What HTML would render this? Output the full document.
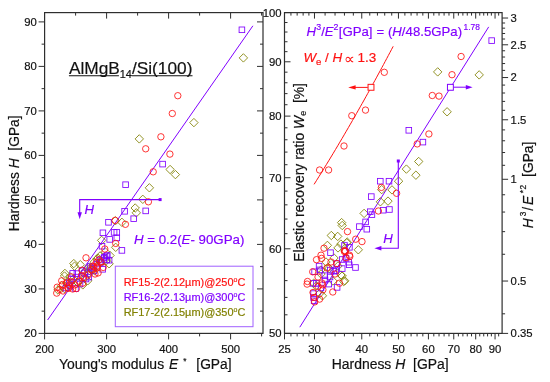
<!DOCTYPE html>
<html><head><meta charset="utf-8"><title>AlMgB14/Si(100) hardness plots</title>
<style>html,body{margin:0;padding:0;background:#fff}svg{display:block}text{font-family:"Liberation Sans",Arial,sans-serif}</style>
</head><body>
<svg width="550" height="382" viewBox="0 0 550 382" font-family="'Liberation Sans', Arial, sans-serif">
<g fill="none" stroke-linecap="butt">
<rect x="44.6" y="12.6" width="218.40" height="320.80" stroke="#2e2e2e" stroke-width="1.2"/>
<rect x="284.5" y="12.6" width="217.60" height="320.80" stroke="#2e2e2e" stroke-width="1.2"/>
<line x1="38.60" y1="333.40" x2="44.60" y2="333.40" stroke="#2e2e2e" stroke-width="1.0" />
<line x1="257.00" y1="333.40" x2="263.00" y2="333.40" stroke="#2e2e2e" stroke-width="1.0" />
<line x1="41.60" y1="311.15" x2="44.60" y2="311.15" stroke="#2e2e2e" stroke-width="1.0" />
<line x1="260.00" y1="311.15" x2="263.00" y2="311.15" stroke="#2e2e2e" stroke-width="1.0" />
<line x1="38.60" y1="288.90" x2="44.60" y2="288.90" stroke="#2e2e2e" stroke-width="1.0" />
<line x1="257.00" y1="288.90" x2="263.00" y2="288.90" stroke="#2e2e2e" stroke-width="1.0" />
<line x1="41.60" y1="266.65" x2="44.60" y2="266.65" stroke="#2e2e2e" stroke-width="1.0" />
<line x1="260.00" y1="266.65" x2="263.00" y2="266.65" stroke="#2e2e2e" stroke-width="1.0" />
<line x1="38.60" y1="244.40" x2="44.60" y2="244.40" stroke="#2e2e2e" stroke-width="1.0" />
<line x1="257.00" y1="244.40" x2="263.00" y2="244.40" stroke="#2e2e2e" stroke-width="1.0" />
<line x1="41.60" y1="222.15" x2="44.60" y2="222.15" stroke="#2e2e2e" stroke-width="1.0" />
<line x1="260.00" y1="222.15" x2="263.00" y2="222.15" stroke="#2e2e2e" stroke-width="1.0" />
<line x1="38.60" y1="199.90" x2="44.60" y2="199.90" stroke="#2e2e2e" stroke-width="1.0" />
<line x1="257.00" y1="199.90" x2="263.00" y2="199.90" stroke="#2e2e2e" stroke-width="1.0" />
<line x1="41.60" y1="177.65" x2="44.60" y2="177.65" stroke="#2e2e2e" stroke-width="1.0" />
<line x1="260.00" y1="177.65" x2="263.00" y2="177.65" stroke="#2e2e2e" stroke-width="1.0" />
<line x1="38.60" y1="155.40" x2="44.60" y2="155.40" stroke="#2e2e2e" stroke-width="1.0" />
<line x1="257.00" y1="155.40" x2="263.00" y2="155.40" stroke="#2e2e2e" stroke-width="1.0" />
<line x1="41.60" y1="133.15" x2="44.60" y2="133.15" stroke="#2e2e2e" stroke-width="1.0" />
<line x1="260.00" y1="133.15" x2="263.00" y2="133.15" stroke="#2e2e2e" stroke-width="1.0" />
<line x1="38.60" y1="110.90" x2="44.60" y2="110.90" stroke="#2e2e2e" stroke-width="1.0" />
<line x1="257.00" y1="110.90" x2="263.00" y2="110.90" stroke="#2e2e2e" stroke-width="1.0" />
<line x1="41.60" y1="88.65" x2="44.60" y2="88.65" stroke="#2e2e2e" stroke-width="1.0" />
<line x1="260.00" y1="88.65" x2="263.00" y2="88.65" stroke="#2e2e2e" stroke-width="1.0" />
<line x1="38.60" y1="66.40" x2="44.60" y2="66.40" stroke="#2e2e2e" stroke-width="1.0" />
<line x1="257.00" y1="66.40" x2="263.00" y2="66.40" stroke="#2e2e2e" stroke-width="1.0" />
<line x1="41.60" y1="44.15" x2="44.60" y2="44.15" stroke="#2e2e2e" stroke-width="1.0" />
<line x1="260.00" y1="44.15" x2="263.00" y2="44.15" stroke="#2e2e2e" stroke-width="1.0" />
<line x1="38.60" y1="21.90" x2="44.60" y2="21.90" stroke="#2e2e2e" stroke-width="1.0" />
<line x1="257.00" y1="21.90" x2="263.00" y2="21.90" stroke="#2e2e2e" stroke-width="1.0" />
<line x1="44.60" y1="333.40" x2="44.60" y2="339.40" stroke="#2e2e2e" stroke-width="1.0" />
<line x1="75.60" y1="333.40" x2="75.60" y2="336.40" stroke="#2e2e2e" stroke-width="1.0" />
<line x1="75.60" y1="12.60" x2="75.60" y2="15.60" stroke="#2e2e2e" stroke-width="1.0" />
<line x1="106.60" y1="333.40" x2="106.60" y2="339.40" stroke="#2e2e2e" stroke-width="1.0" />
<line x1="106.60" y1="12.60" x2="106.60" y2="18.60" stroke="#2e2e2e" stroke-width="1.0" />
<line x1="137.60" y1="333.40" x2="137.60" y2="336.40" stroke="#2e2e2e" stroke-width="1.0" />
<line x1="137.60" y1="12.60" x2="137.60" y2="15.60" stroke="#2e2e2e" stroke-width="1.0" />
<line x1="168.60" y1="333.40" x2="168.60" y2="339.40" stroke="#2e2e2e" stroke-width="1.0" />
<line x1="168.60" y1="12.60" x2="168.60" y2="18.60" stroke="#2e2e2e" stroke-width="1.0" />
<line x1="199.60" y1="333.40" x2="199.60" y2="336.40" stroke="#2e2e2e" stroke-width="1.0" />
<line x1="199.60" y1="12.60" x2="199.60" y2="15.60" stroke="#2e2e2e" stroke-width="1.0" />
<line x1="230.60" y1="333.40" x2="230.60" y2="339.40" stroke="#2e2e2e" stroke-width="1.0" />
<line x1="230.60" y1="12.60" x2="230.60" y2="18.60" stroke="#2e2e2e" stroke-width="1.0" />
<line x1="261.60" y1="333.40" x2="261.60" y2="336.40" stroke="#2e2e2e" stroke-width="1.0" />
<line x1="261.60" y1="12.60" x2="261.60" y2="15.60" stroke="#2e2e2e" stroke-width="1.0" />
<line x1="284.50" y1="333.40" x2="284.50" y2="339.40" stroke="#2e2e2e" stroke-width="1.0" />
<line x1="314.47" y1="333.40" x2="314.47" y2="339.40" stroke="#2e2e2e" stroke-width="1.0" />
<line x1="314.47" y1="12.60" x2="314.47" y2="18.60" stroke="#2e2e2e" stroke-width="1.0" />
<line x1="361.76" y1="333.40" x2="361.76" y2="339.40" stroke="#2e2e2e" stroke-width="1.0" />
<line x1="361.76" y1="12.60" x2="361.76" y2="18.60" stroke="#2e2e2e" stroke-width="1.0" />
<line x1="398.44" y1="333.40" x2="398.44" y2="339.40" stroke="#2e2e2e" stroke-width="1.0" />
<line x1="398.44" y1="12.60" x2="398.44" y2="18.60" stroke="#2e2e2e" stroke-width="1.0" />
<line x1="428.41" y1="333.40" x2="428.41" y2="339.40" stroke="#2e2e2e" stroke-width="1.0" />
<line x1="428.41" y1="12.60" x2="428.41" y2="18.60" stroke="#2e2e2e" stroke-width="1.0" />
<line x1="453.75" y1="333.40" x2="453.75" y2="339.40" stroke="#2e2e2e" stroke-width="1.0" />
<line x1="453.75" y1="12.60" x2="453.75" y2="18.60" stroke="#2e2e2e" stroke-width="1.0" />
<line x1="475.70" y1="333.40" x2="475.70" y2="339.40" stroke="#2e2e2e" stroke-width="1.0" />
<line x1="475.70" y1="12.60" x2="475.70" y2="18.60" stroke="#2e2e2e" stroke-width="1.0" />
<line x1="495.06" y1="333.40" x2="495.06" y2="339.40" stroke="#2e2e2e" stroke-width="1.0" />
<line x1="495.06" y1="12.60" x2="495.06" y2="18.60" stroke="#2e2e2e" stroke-width="1.0" />
<line x1="290.95" y1="333.40" x2="290.95" y2="336.40" stroke="#2e2e2e" stroke-width="1.0" />
<line x1="290.95" y1="12.60" x2="290.95" y2="15.60" stroke="#2e2e2e" stroke-width="1.0" />
<line x1="297.15" y1="333.40" x2="297.15" y2="336.40" stroke="#2e2e2e" stroke-width="1.0" />
<line x1="297.15" y1="12.60" x2="297.15" y2="15.60" stroke="#2e2e2e" stroke-width="1.0" />
<line x1="303.13" y1="333.40" x2="303.13" y2="336.40" stroke="#2e2e2e" stroke-width="1.0" />
<line x1="303.13" y1="12.60" x2="303.13" y2="15.60" stroke="#2e2e2e" stroke-width="1.0" />
<line x1="308.90" y1="333.40" x2="308.90" y2="336.40" stroke="#2e2e2e" stroke-width="1.0" />
<line x1="308.90" y1="12.60" x2="308.90" y2="15.60" stroke="#2e2e2e" stroke-width="1.0" />
<line x1="325.08" y1="333.40" x2="325.08" y2="336.40" stroke="#2e2e2e" stroke-width="1.0" />
<line x1="325.08" y1="12.60" x2="325.08" y2="15.60" stroke="#2e2e2e" stroke-width="1.0" />
<line x1="335.04" y1="333.40" x2="335.04" y2="336.40" stroke="#2e2e2e" stroke-width="1.0" />
<line x1="335.04" y1="12.60" x2="335.04" y2="15.60" stroke="#2e2e2e" stroke-width="1.0" />
<line x1="344.44" y1="333.40" x2="344.44" y2="336.40" stroke="#2e2e2e" stroke-width="1.0" />
<line x1="344.44" y1="12.60" x2="344.44" y2="15.60" stroke="#2e2e2e" stroke-width="1.0" />
<line x1="353.33" y1="333.40" x2="353.33" y2="336.40" stroke="#2e2e2e" stroke-width="1.0" />
<line x1="353.33" y1="12.60" x2="353.33" y2="15.60" stroke="#2e2e2e" stroke-width="1.0" />
<line x1="369.78" y1="333.40" x2="369.78" y2="336.40" stroke="#2e2e2e" stroke-width="1.0" />
<line x1="369.78" y1="12.60" x2="369.78" y2="15.60" stroke="#2e2e2e" stroke-width="1.0" />
<line x1="377.43" y1="333.40" x2="377.43" y2="336.40" stroke="#2e2e2e" stroke-width="1.0" />
<line x1="377.43" y1="12.60" x2="377.43" y2="15.60" stroke="#2e2e2e" stroke-width="1.0" />
<line x1="384.73" y1="333.40" x2="384.73" y2="336.40" stroke="#2e2e2e" stroke-width="1.0" />
<line x1="384.73" y1="12.60" x2="384.73" y2="15.60" stroke="#2e2e2e" stroke-width="1.0" />
<line x1="391.73" y1="333.40" x2="391.73" y2="336.40" stroke="#2e2e2e" stroke-width="1.0" />
<line x1="391.73" y1="12.60" x2="391.73" y2="15.60" stroke="#2e2e2e" stroke-width="1.0" />
<line x1="404.89" y1="333.40" x2="404.89" y2="336.40" stroke="#2e2e2e" stroke-width="1.0" />
<line x1="404.89" y1="12.60" x2="404.89" y2="15.60" stroke="#2e2e2e" stroke-width="1.0" />
<line x1="411.09" y1="333.40" x2="411.09" y2="336.40" stroke="#2e2e2e" stroke-width="1.0" />
<line x1="411.09" y1="12.60" x2="411.09" y2="15.60" stroke="#2e2e2e" stroke-width="1.0" />
<line x1="417.07" y1="333.40" x2="417.07" y2="336.40" stroke="#2e2e2e" stroke-width="1.0" />
<line x1="417.07" y1="12.60" x2="417.07" y2="15.60" stroke="#2e2e2e" stroke-width="1.0" />
<line x1="422.84" y1="333.40" x2="422.84" y2="336.40" stroke="#2e2e2e" stroke-width="1.0" />
<line x1="422.84" y1="12.60" x2="422.84" y2="15.60" stroke="#2e2e2e" stroke-width="1.0" />
<line x1="433.80" y1="333.40" x2="433.80" y2="336.40" stroke="#2e2e2e" stroke-width="1.0" />
<line x1="433.80" y1="12.60" x2="433.80" y2="15.60" stroke="#2e2e2e" stroke-width="1.0" />
<line x1="439.02" y1="333.40" x2="439.02" y2="336.40" stroke="#2e2e2e" stroke-width="1.0" />
<line x1="439.02" y1="12.60" x2="439.02" y2="15.60" stroke="#2e2e2e" stroke-width="1.0" />
<line x1="444.08" y1="333.40" x2="444.08" y2="336.40" stroke="#2e2e2e" stroke-width="1.0" />
<line x1="444.08" y1="12.60" x2="444.08" y2="15.60" stroke="#2e2e2e" stroke-width="1.0" />
<line x1="448.98" y1="333.40" x2="448.98" y2="336.40" stroke="#2e2e2e" stroke-width="1.0" />
<line x1="448.98" y1="12.60" x2="448.98" y2="15.60" stroke="#2e2e2e" stroke-width="1.0" />
<line x1="458.38" y1="333.40" x2="458.38" y2="336.40" stroke="#2e2e2e" stroke-width="1.0" />
<line x1="458.38" y1="12.60" x2="458.38" y2="15.60" stroke="#2e2e2e" stroke-width="1.0" />
<line x1="462.88" y1="333.40" x2="462.88" y2="336.40" stroke="#2e2e2e" stroke-width="1.0" />
<line x1="462.88" y1="12.60" x2="462.88" y2="15.60" stroke="#2e2e2e" stroke-width="1.0" />
<line x1="467.27" y1="333.40" x2="467.27" y2="336.40" stroke="#2e2e2e" stroke-width="1.0" />
<line x1="467.27" y1="12.60" x2="467.27" y2="15.60" stroke="#2e2e2e" stroke-width="1.0" />
<line x1="471.54" y1="333.40" x2="471.54" y2="336.40" stroke="#2e2e2e" stroke-width="1.0" />
<line x1="471.54" y1="12.60" x2="471.54" y2="15.60" stroke="#2e2e2e" stroke-width="1.0" />
<line x1="479.76" y1="333.40" x2="479.76" y2="336.40" stroke="#2e2e2e" stroke-width="1.0" />
<line x1="479.76" y1="12.60" x2="479.76" y2="15.60" stroke="#2e2e2e" stroke-width="1.0" />
<line x1="483.72" y1="333.40" x2="483.72" y2="336.40" stroke="#2e2e2e" stroke-width="1.0" />
<line x1="483.72" y1="12.60" x2="483.72" y2="15.60" stroke="#2e2e2e" stroke-width="1.0" />
<line x1="487.59" y1="333.40" x2="487.59" y2="336.40" stroke="#2e2e2e" stroke-width="1.0" />
<line x1="487.59" y1="12.60" x2="487.59" y2="15.60" stroke="#2e2e2e" stroke-width="1.0" />
<line x1="491.37" y1="333.40" x2="491.37" y2="336.40" stroke="#2e2e2e" stroke-width="1.0" />
<line x1="491.37" y1="12.60" x2="491.37" y2="15.60" stroke="#2e2e2e" stroke-width="1.0" />
<line x1="498.67" y1="333.40" x2="498.67" y2="336.40" stroke="#2e2e2e" stroke-width="1.0" />
<line x1="498.67" y1="12.60" x2="498.67" y2="15.60" stroke="#2e2e2e" stroke-width="1.0" />
<line x1="284.50" y1="333.40" x2="290.50" y2="333.40" stroke="#2e2e2e" stroke-width="1.0" />
<line x1="284.50" y1="314.80" x2="287.50" y2="314.80" stroke="#2e2e2e" stroke-width="1.0" />
<line x1="284.50" y1="297.40" x2="287.50" y2="297.40" stroke="#2e2e2e" stroke-width="1.0" />
<line x1="284.50" y1="280.62" x2="287.50" y2="280.62" stroke="#2e2e2e" stroke-width="1.0" />
<line x1="284.50" y1="264.44" x2="287.50" y2="264.44" stroke="#2e2e2e" stroke-width="1.0" />
<line x1="284.50" y1="248.80" x2="290.50" y2="248.80" stroke="#2e2e2e" stroke-width="1.0" />
<line x1="284.50" y1="233.68" x2="287.50" y2="233.68" stroke="#2e2e2e" stroke-width="1.0" />
<line x1="284.50" y1="219.04" x2="287.50" y2="219.04" stroke="#2e2e2e" stroke-width="1.0" />
<line x1="284.50" y1="204.84" x2="287.50" y2="204.84" stroke="#2e2e2e" stroke-width="1.0" />
<line x1="284.50" y1="191.08" x2="287.50" y2="191.08" stroke="#2e2e2e" stroke-width="1.0" />
<line x1="284.50" y1="177.71" x2="290.50" y2="177.71" stroke="#2e2e2e" stroke-width="1.0" />
<line x1="284.50" y1="164.71" x2="287.50" y2="164.71" stroke="#2e2e2e" stroke-width="1.0" />
<line x1="284.50" y1="152.08" x2="287.50" y2="152.08" stroke="#2e2e2e" stroke-width="1.0" />
<line x1="284.50" y1="139.78" x2="287.50" y2="139.78" stroke="#2e2e2e" stroke-width="1.0" />
<line x1="284.50" y1="127.80" x2="287.50" y2="127.80" stroke="#2e2e2e" stroke-width="1.0" />
<line x1="284.50" y1="116.12" x2="290.50" y2="116.12" stroke="#2e2e2e" stroke-width="1.0" />
<line x1="284.50" y1="104.73" x2="287.50" y2="104.73" stroke="#2e2e2e" stroke-width="1.0" />
<line x1="284.50" y1="93.62" x2="287.50" y2="93.62" stroke="#2e2e2e" stroke-width="1.0" />
<line x1="284.50" y1="82.76" x2="287.50" y2="82.76" stroke="#2e2e2e" stroke-width="1.0" />
<line x1="284.50" y1="72.16" x2="287.50" y2="72.16" stroke="#2e2e2e" stroke-width="1.0" />
<line x1="284.50" y1="61.79" x2="290.50" y2="61.79" stroke="#2e2e2e" stroke-width="1.0" />
<line x1="284.50" y1="51.66" x2="287.50" y2="51.66" stroke="#2e2e2e" stroke-width="1.0" />
<line x1="284.50" y1="41.74" x2="287.50" y2="41.74" stroke="#2e2e2e" stroke-width="1.0" />
<line x1="284.50" y1="32.03" x2="287.50" y2="32.03" stroke="#2e2e2e" stroke-width="1.0" />
<line x1="284.50" y1="22.52" x2="287.50" y2="22.52" stroke="#2e2e2e" stroke-width="1.0" />
<line x1="284.50" y1="12.60" x2="290.50" y2="12.60" stroke="#2e2e2e" stroke-width="1.0" />
<line x1="502.10" y1="333.40" x2="508.10" y2="333.40" stroke="#2e2e2e" stroke-width="1.0" />
<line x1="502.10" y1="281.04" x2="508.10" y2="281.04" stroke="#2e2e2e" stroke-width="1.0" />
<line x1="502.10" y1="179.29" x2="508.10" y2="179.29" stroke="#2e2e2e" stroke-width="1.0" />
<line x1="502.10" y1="119.78" x2="508.10" y2="119.78" stroke="#2e2e2e" stroke-width="1.0" />
<line x1="502.10" y1="77.55" x2="508.10" y2="77.55" stroke="#2e2e2e" stroke-width="1.0" />
<line x1="502.10" y1="44.79" x2="508.10" y2="44.79" stroke="#2e2e2e" stroke-width="1.0" />
<line x1="502.10" y1="18.03" x2="508.10" y2="18.03" stroke="#2e2e2e" stroke-width="1.0" />
<line x1="502.10" y1="313.80" x2="505.10" y2="313.80" stroke="#2e2e2e" stroke-width="1.0" />
<line x1="502.10" y1="254.28" x2="505.10" y2="254.28" stroke="#2e2e2e" stroke-width="1.0" />
<line x1="502.10" y1="231.65" x2="505.10" y2="231.65" stroke="#2e2e2e" stroke-width="1.0" />
<line x1="502.10" y1="212.05" x2="505.10" y2="212.05" stroke="#2e2e2e" stroke-width="1.0" />
<line x1="502.10" y1="194.76" x2="505.10" y2="194.76" stroke="#2e2e2e" stroke-width="1.0" />
<line x1="502.10" y1="165.30" x2="505.10" y2="165.30" stroke="#2e2e2e" stroke-width="1.0" />
<line x1="502.10" y1="152.53" x2="505.10" y2="152.53" stroke="#2e2e2e" stroke-width="1.0" />
<line x1="502.10" y1="140.78" x2="505.10" y2="140.78" stroke="#2e2e2e" stroke-width="1.0" />
<line x1="502.10" y1="129.90" x2="505.10" y2="129.90" stroke="#2e2e2e" stroke-width="1.0" />
<line x1="502.10" y1="110.30" x2="505.10" y2="110.30" stroke="#2e2e2e" stroke-width="1.0" />
<line x1="502.10" y1="101.40" x2="505.10" y2="101.40" stroke="#2e2e2e" stroke-width="1.0" />
<line x1="502.10" y1="93.01" x2="505.10" y2="93.01" stroke="#2e2e2e" stroke-width="1.0" />
<line x1="502.10" y1="85.08" x2="505.10" y2="85.08" stroke="#2e2e2e" stroke-width="1.0" />
<line x1="502.10" y1="70.38" x2="505.10" y2="70.38" stroke="#2e2e2e" stroke-width="1.0" />
<line x1="502.10" y1="63.56" x2="505.10" y2="63.56" stroke="#2e2e2e" stroke-width="1.0" />
<line x1="502.10" y1="57.03" x2="505.10" y2="57.03" stroke="#2e2e2e" stroke-width="1.0" />
<line x1="502.10" y1="50.78" x2="505.10" y2="50.78" stroke="#2e2e2e" stroke-width="1.0" />
<line x1="502.10" y1="39.03" x2="505.10" y2="39.03" stroke="#2e2e2e" stroke-width="1.0" />
<line x1="502.10" y1="33.49" x2="505.10" y2="33.49" stroke="#2e2e2e" stroke-width="1.0" />
<line x1="502.10" y1="28.16" x2="505.10" y2="28.16" stroke="#2e2e2e" stroke-width="1.0" />
<line x1="502.10" y1="23.00" x2="505.10" y2="23.00" stroke="#2e2e2e" stroke-width="1.0" />
</g>
<line x1="47.60" y1="320.00" x2="252.90" y2="25.80" stroke="#8000ff" stroke-width="1.0" />
<line x1="299.80" y1="327.20" x2="488.70" y2="26.90" stroke="#8000ff" stroke-width="1.0" />
<path d="M314.09 184.35L316.61 180.34L319.09 176.37L321.54 172.44L323.94 168.54L326.32 164.66L328.66 160.83L330.97 157.02L333.25 153.25L335.49 149.50L337.71 145.79L339.89 142.10L342.05 138.45L344.18 134.82L346.28 131.22L348.35 127.65L350.40 124.11L352.43 120.59L354.43 117.10L356.40 113.64L358.35 110.20L360.28 106.79L362.19 103.40L364.08 100.04L365.94 96.70L367.78 93.39L369.60 90.10L371.41 86.83L373.19 83.58L374.95 80.36L376.70 77.16L378.42 73.99L380.13 70.83L381.82 67.70L383.50 64.58L385.15 61.49L386.79 58.42L388.42 55.37L390.03 52.34L391.62 49.33L393.20 46.34" fill="none" stroke="#ff1212" stroke-width="1.0"/>
<path d="M239.2 57.9L243.4 53.7L247.6 57.9L243.4 62.1Z" fill="none" stroke="#808000" stroke-width="0.85"/>
<path d="M189.7 122.6L193.9 118.4L198.1 122.6L193.9 126.8Z" fill="none" stroke="#808000" stroke-width="0.85"/>
<path d="M135.1 138.9L139.3 134.7L143.5 138.9L139.3 143.1Z" fill="none" stroke="#808000" stroke-width="0.85"/>
<path d="M165.9 169.5L170.1 165.3L174.3 169.5L170.1 173.7Z" fill="none" stroke="#808000" stroke-width="0.85"/>
<path d="M171.2 174.6L175.4 170.4L179.6 174.6L175.4 178.8Z" fill="none" stroke="#808000" stroke-width="0.85"/>
<path d="M145.2 187.8L149.4 183.6L153.6 187.8L149.4 192.0Z" fill="none" stroke="#808000" stroke-width="0.85"/>
<path d="M138.6 199.3L142.8 195.1L147.0 199.3L142.8 203.5Z" fill="none" stroke="#808000" stroke-width="0.85"/>
<path d="M131.0 208.0L135.2 203.8L139.4 208.0L135.2 212.2Z" fill="none" stroke="#808000" stroke-width="0.85"/>
<path d="M132.1 212.8L136.3 208.6L140.5 212.8L136.3 217.0Z" fill="none" stroke="#808000" stroke-width="0.85"/>
<path d="M111.2 220.7L115.4 216.5L119.6 220.7L115.4 224.9Z" fill="none" stroke="#808000" stroke-width="0.85"/>
<path d="M117.7 222.3L121.9 218.1L126.1 222.3L121.9 226.5Z" fill="none" stroke="#808000" stroke-width="0.85"/>
<path d="M97.4 240.4L101.6 236.2L105.8 240.4L101.6 244.6Z" fill="none" stroke="#808000" stroke-width="0.85"/>
<path d="M111.5 247.3L115.7 243.1L119.9 247.3L115.7 251.5Z" fill="none" stroke="#808000" stroke-width="0.85"/>
<path d="M101.0 251.8L105.2 247.6L109.4 251.8L105.2 256.0Z" fill="none" stroke="#808000" stroke-width="0.85"/>
<path d="M105.8 255.5L110.0 251.3L114.2 255.5L110.0 259.7Z" fill="none" stroke="#808000" stroke-width="0.85"/>
<path d="M104.9 263.8L109.1 259.6L113.3 263.8L109.1 268.0Z" fill="none" stroke="#808000" stroke-width="0.85"/>
<path d="M76.1 264.7L80.3 260.5L84.5 264.7L80.3 268.9Z" fill="none" stroke="#808000" stroke-width="0.85"/>
<path d="M69.6 263.6L73.8 259.4L78.0 263.6L73.8 267.8Z" fill="none" stroke="#808000" stroke-width="0.85"/>
<path d="M70.3 266.2L74.5 262.0L78.7 266.2L74.5 270.4Z" fill="none" stroke="#808000" stroke-width="0.85"/>
<path d="M60.7 273.4L64.9 269.2L69.1 273.4L64.9 277.6Z" fill="none" stroke="#808000" stroke-width="0.85"/>
<path d="M60.3 276.0L64.5 271.8L68.7 276.0L64.5 280.2Z" fill="none" stroke="#808000" stroke-width="0.85"/>
<path d="M57.5 285.8L61.7 281.6L65.9 285.8L61.7 290.0Z" fill="none" stroke="#808000" stroke-width="0.85"/>
<path d="M60.3 288.6L64.5 284.4L68.7 288.6L64.5 292.8Z" fill="none" stroke="#808000" stroke-width="0.85"/>
<path d="M78.6 284.9L82.8 280.7L87.0 284.9L82.8 289.1Z" fill="none" stroke="#808000" stroke-width="0.85"/>
<path d="M92.8 259.0L97.0 254.8L101.2 259.0L97.0 263.2Z" fill="none" stroke="#808000" stroke-width="0.85"/>
<path d="M96.8 263.0L101.0 258.8L105.2 263.0L101.0 267.2Z" fill="none" stroke="#808000" stroke-width="0.85"/>
<path d="M88.8 270.0L93.0 265.8L97.2 270.0L93.0 274.2Z" fill="none" stroke="#808000" stroke-width="0.85"/>
<path d="M84.8 273.0L89.0 268.8L93.2 273.0L89.0 277.2Z" fill="none" stroke="#808000" stroke-width="0.85"/>
<path d="M80.8 278.0L85.0 273.8L89.2 278.0L85.0 282.2Z" fill="none" stroke="#808000" stroke-width="0.85"/>
<path d="M73.8 283.0L78.0 278.8L82.2 283.0L78.0 287.2Z" fill="none" stroke="#808000" stroke-width="0.85"/>
<path d="M63.8 284.0L68.0 279.8L72.2 284.0L68.0 288.2Z" fill="none" stroke="#808000" stroke-width="0.85"/>
<path d="M53.8 290.0L58.0 285.8L62.2 290.0L58.0 294.2Z" fill="none" stroke="#808000" stroke-width="0.85"/>
<path d="M95.8 256.0L100.0 251.8L104.2 256.0L100.0 260.2Z" fill="none" stroke="#808000" stroke-width="0.85"/>
<path d="M101.8 261.0L106.0 256.8L110.2 261.0L106.0 265.2Z" fill="none" stroke="#808000" stroke-width="0.85"/>
<path d="M65.8 276.7L70.0 272.5L74.2 276.7L70.0 280.9Z" fill="none" stroke="#808000" stroke-width="0.85"/>
<path d="M84.4 267.8L88.6 263.6L92.8 267.8L88.6 272.0Z" fill="none" stroke="#808000" stroke-width="0.85"/>
<path d="M86.1 268.2L90.3 264.0L94.5 268.2L90.3 272.4Z" fill="none" stroke="#808000" stroke-width="0.85"/>
<path d="M96.1 261.9L100.3 257.7L104.5 261.9L100.3 266.1Z" fill="none" stroke="#808000" stroke-width="0.85"/>
<path d="M68.8 279.3L73.0 275.1L77.2 279.3L73.0 283.5Z" fill="none" stroke="#808000" stroke-width="0.85"/>
<path d="M83.5 280.8L87.7 276.6L91.9 280.8L87.7 285.0Z" fill="none" stroke="#808000" stroke-width="0.85"/>
<path d="M93.8 258.1L98.0 253.9L102.2 258.1L98.0 262.3Z" fill="none" stroke="#808000" stroke-width="0.85"/>
<path d="M63.4 282.2L67.6 278.0L71.8 282.2L67.6 286.4Z" fill="none" stroke="#808000" stroke-width="0.85"/>
<path d="M87.5 269.7L91.7 265.5L95.9 269.7L91.7 273.9Z" fill="none" stroke="#808000" stroke-width="0.85"/>
<path d="M90.0 262.2L94.2 258.0L98.4 262.2L94.2 266.4Z" fill="none" stroke="#808000" stroke-width="0.85"/>
<path d="M90.4 270.5L94.6 266.3L98.8 270.5L94.6 274.7Z" fill="none" stroke="#808000" stroke-width="0.85"/>
<path d="M85.2 270.6L89.4 266.4L93.6 270.6L89.4 274.8Z" fill="none" stroke="#808000" stroke-width="0.85"/>
<path d="M73.3 282.3L77.5 278.1L81.7 282.3L77.5 286.5Z" fill="none" stroke="#808000" stroke-width="0.85"/>
<path d="M79.1 273.3L83.3 269.1L87.5 273.3L83.3 277.5Z" fill="none" stroke="#808000" stroke-width="0.85"/>
<rect x="239.1" y="27.0" width="5.6" height="5.6" fill="none" stroke="#8000ff" stroke-width="0.85"/>
<rect x="159.8" y="161.3" width="5.6" height="5.6" fill="none" stroke="#8000ff" stroke-width="0.85"/>
<rect x="122.8" y="181.9" width="5.6" height="5.6" fill="none" stroke="#8000ff" stroke-width="0.85"/>
<rect x="121.8" y="208.5" width="5.6" height="5.6" fill="none" stroke="#8000ff" stroke-width="0.85"/>
<rect x="142.9" y="208.1" width="5.6" height="5.6" fill="none" stroke="#8000ff" stroke-width="0.85"/>
<rect x="130.9" y="215.9" width="5.6" height="5.6" fill="none" stroke="#8000ff" stroke-width="0.85"/>
<rect x="105.7" y="219.5" width="5.6" height="5.6" fill="none" stroke="#8000ff" stroke-width="0.85"/>
<rect x="100.1" y="230.0" width="5.6" height="5.6" fill="none" stroke="#8000ff" stroke-width="0.85"/>
<rect x="111.3" y="229.6" width="5.6" height="5.6" fill="none" stroke="#8000ff" stroke-width="0.85"/>
<rect x="114.0" y="229.6" width="5.6" height="5.6" fill="none" stroke="#8000ff" stroke-width="0.85"/>
<rect x="114.0" y="235.1" width="5.6" height="5.6" fill="none" stroke="#8000ff" stroke-width="0.85"/>
<rect x="106.9" y="236.6" width="5.6" height="5.6" fill="none" stroke="#8000ff" stroke-width="0.85"/>
<rect x="99.2" y="243.4" width="5.6" height="5.6" fill="none" stroke="#8000ff" stroke-width="0.85"/>
<rect x="119.1" y="247.6" width="5.6" height="5.6" fill="none" stroke="#8000ff" stroke-width="0.85"/>
<rect x="104.5" y="252.7" width="5.6" height="5.6" fill="none" stroke="#8000ff" stroke-width="0.85"/>
<rect x="103.6" y="253.2" width="5.6" height="5.6" fill="none" stroke="#8000ff" stroke-width="0.85"/>
<rect x="99.9" y="266.5" width="5.6" height="5.6" fill="none" stroke="#8000ff" stroke-width="0.85"/>
<rect x="69.9" y="270.6" width="5.6" height="5.6" fill="none" stroke="#8000ff" stroke-width="0.85"/>
<rect x="72.7" y="285.8" width="5.6" height="5.6" fill="none" stroke="#8000ff" stroke-width="0.85"/>
<rect x="86.0" y="274.3" width="5.6" height="5.6" fill="none" stroke="#8000ff" stroke-width="0.85"/>
<rect x="81.8" y="270.2" width="5.6" height="5.6" fill="none" stroke="#8000ff" stroke-width="0.85"/>
<rect x="89.2" y="265.2" width="5.6" height="5.6" fill="none" stroke="#8000ff" stroke-width="0.85"/>
<rect x="94.2" y="261.2" width="5.6" height="5.6" fill="none" stroke="#8000ff" stroke-width="0.85"/>
<rect x="97.2" y="257.2" width="5.6" height="5.6" fill="none" stroke="#8000ff" stroke-width="0.85"/>
<rect x="91.2" y="268.2" width="5.6" height="5.6" fill="none" stroke="#8000ff" stroke-width="0.85"/>
<rect x="83.2" y="276.2" width="5.6" height="5.6" fill="none" stroke="#8000ff" stroke-width="0.85"/>
<rect x="77.2" y="281.2" width="5.6" height="5.6" fill="none" stroke="#8000ff" stroke-width="0.85"/>
<rect x="67.2" y="283.2" width="5.6" height="5.6" fill="none" stroke="#8000ff" stroke-width="0.85"/>
<rect x="63.2" y="285.2" width="5.6" height="5.6" fill="none" stroke="#8000ff" stroke-width="0.85"/>
<rect x="101.2" y="255.2" width="5.6" height="5.6" fill="none" stroke="#8000ff" stroke-width="0.85"/>
<rect x="103.8" y="257.1" width="5.6" height="5.6" fill="none" stroke="#8000ff" stroke-width="0.85"/>
<rect x="66.6" y="279.7" width="5.6" height="5.6" fill="none" stroke="#8000ff" stroke-width="0.85"/>
<rect x="98.1" y="259.4" width="5.6" height="5.6" fill="none" stroke="#8000ff" stroke-width="0.85"/>
<rect x="74.1" y="270.8" width="5.6" height="5.6" fill="none" stroke="#8000ff" stroke-width="0.85"/>
<rect x="87.3" y="263.7" width="5.6" height="5.6" fill="none" stroke="#8000ff" stroke-width="0.85"/>
<rect x="68.7" y="276.2" width="5.6" height="5.6" fill="none" stroke="#8000ff" stroke-width="0.85"/>
<rect x="79.6" y="267.9" width="5.6" height="5.6" fill="none" stroke="#8000ff" stroke-width="0.85"/>
<rect x="106.3" y="257.4" width="5.6" height="5.6" fill="none" stroke="#8000ff" stroke-width="0.85"/>
<rect x="101.7" y="254.4" width="5.6" height="5.6" fill="none" stroke="#8000ff" stroke-width="0.85"/>
<rect x="74.1" y="274.3" width="5.6" height="5.6" fill="none" stroke="#8000ff" stroke-width="0.85"/>
<circle cx="177.8" cy="95.7" r="3.2" fill="none" stroke="#ff1212" stroke-width="0.85"/>
<circle cx="172.3" cy="113.5" r="3.2" fill="none" stroke="#ff1212" stroke-width="0.85"/>
<circle cx="160.9" cy="136.8" r="3.2" fill="none" stroke="#ff1212" stroke-width="0.85"/>
<circle cx="145.7" cy="148.8" r="3.2" fill="none" stroke="#ff1212" stroke-width="0.85"/>
<circle cx="169.9" cy="154.1" r="3.2" fill="none" stroke="#ff1212" stroke-width="0.85"/>
<circle cx="153.2" cy="171.8" r="3.2" fill="none" stroke="#ff1212" stroke-width="0.85"/>
<circle cx="148.4" cy="201.8" r="3.2" fill="none" stroke="#ff1212" stroke-width="0.85"/>
<circle cx="115.1" cy="220.4" r="3.2" fill="none" stroke="#ff1212" stroke-width="0.85"/>
<circle cx="125.4" cy="224.3" r="3.2" fill="none" stroke="#ff1212" stroke-width="0.85"/>
<circle cx="115.7" cy="243.4" r="3.2" fill="none" stroke="#ff1212" stroke-width="0.85"/>
<circle cx="104.8" cy="249.0" r="3.2" fill="none" stroke="#ff1212" stroke-width="0.85"/>
<circle cx="86.0" cy="257.8" r="3.2" fill="none" stroke="#ff1212" stroke-width="0.85"/>
<circle cx="103.2" cy="267.4" r="3.2" fill="none" stroke="#ff1212" stroke-width="0.85"/>
<circle cx="98.1" cy="272.9" r="3.2" fill="none" stroke="#ff1212" stroke-width="0.85"/>
<circle cx="56.7" cy="293.1" r="3.2" fill="none" stroke="#ff1212" stroke-width="0.85"/>
<circle cx="57.2" cy="287.2" r="3.2" fill="none" stroke="#ff1212" stroke-width="0.85"/>
<circle cx="61.7" cy="280.8" r="3.2" fill="none" stroke="#ff1212" stroke-width="0.85"/>
<circle cx="59.9" cy="289.5" r="3.2" fill="none" stroke="#ff1212" stroke-width="0.85"/>
<circle cx="66.3" cy="283.1" r="3.2" fill="none" stroke="#ff1212" stroke-width="0.85"/>
<circle cx="70.9" cy="281.7" r="3.2" fill="none" stroke="#ff1212" stroke-width="0.85"/>
<circle cx="72.7" cy="289.0" r="3.2" fill="none" stroke="#ff1212" stroke-width="0.85"/>
<circle cx="76.4" cy="288.6" r="3.2" fill="none" stroke="#ff1212" stroke-width="0.85"/>
<circle cx="79.1" cy="281.2" r="3.2" fill="none" stroke="#ff1212" stroke-width="0.85"/>
<circle cx="82.8" cy="283.1" r="3.2" fill="none" stroke="#ff1212" stroke-width="0.85"/>
<circle cx="83.7" cy="277.6" r="3.2" fill="none" stroke="#ff1212" stroke-width="0.85"/>
<circle cx="99.0" cy="259.7" r="3.2" fill="none" stroke="#ff1212" stroke-width="0.85"/>
<circle cx="96.3" cy="262.4" r="3.2" fill="none" stroke="#ff1212" stroke-width="0.85"/>
<circle cx="91.7" cy="269.7" r="3.2" fill="none" stroke="#ff1212" stroke-width="0.85"/>
<circle cx="88.0" cy="275.0" r="3.2" fill="none" stroke="#ff1212" stroke-width="0.85"/>
<circle cx="93.0" cy="266.0" r="3.2" fill="none" stroke="#ff1212" stroke-width="0.85"/>
<circle cx="101.0" cy="262.0" r="3.2" fill="none" stroke="#ff1212" stroke-width="0.85"/>
<circle cx="95.0" cy="274.0" r="3.2" fill="none" stroke="#ff1212" stroke-width="0.85"/>
<circle cx="63.0" cy="291.0" r="3.2" fill="none" stroke="#ff1212" stroke-width="0.85"/>
<circle cx="68.0" cy="288.0" r="3.2" fill="none" stroke="#ff1212" stroke-width="0.85"/>
<circle cx="69.2" cy="285.3" r="3.2" fill="none" stroke="#ff1212" stroke-width="0.85"/>
<circle cx="71.4" cy="276.9" r="3.2" fill="none" stroke="#ff1212" stroke-width="0.85"/>
<circle cx="81.9" cy="270.2" r="3.2" fill="none" stroke="#ff1212" stroke-width="0.85"/>
<circle cx="97.3" cy="265.9" r="3.2" fill="none" stroke="#ff1212" stroke-width="0.85"/>
<circle cx="68.6" cy="288.3" r="3.2" fill="none" stroke="#ff1212" stroke-width="0.85"/>
<circle cx="81.5" cy="275.6" r="3.2" fill="none" stroke="#ff1212" stroke-width="0.85"/>
<circle cx="97.0" cy="267.9" r="3.2" fill="none" stroke="#ff1212" stroke-width="0.85"/>
<circle cx="93.8" cy="266.8" r="3.2" fill="none" stroke="#ff1212" stroke-width="0.85"/>
<circle cx="74.8" cy="284.9" r="3.2" fill="none" stroke="#ff1212" stroke-width="0.85"/>
<circle cx="62.4" cy="284.6" r="3.2" fill="none" stroke="#ff1212" stroke-width="0.85"/>
<path d="M433.5 71.9L437.7 67.7L441.9 71.9L437.7 76.1Z" fill="none" stroke="#808000" stroke-width="0.85"/>
<path d="M475.0 74.9L479.2 70.7L483.4 74.9L479.2 79.1Z" fill="none" stroke="#808000" stroke-width="0.85"/>
<path d="M442.9 111.8L447.1 107.6L451.3 111.8L447.1 116.0Z" fill="none" stroke="#808000" stroke-width="0.85"/>
<path d="M414.5 161.5L418.7 157.3L422.9 161.5L418.7 165.7Z" fill="none" stroke="#808000" stroke-width="0.85"/>
<path d="M402.2 169.1L406.4 164.9L410.6 169.1L406.4 173.3Z" fill="none" stroke="#808000" stroke-width="0.85"/>
<path d="M411.7 175.2L415.9 171.0L420.1 175.2L415.9 179.4Z" fill="none" stroke="#808000" stroke-width="0.85"/>
<path d="M394.4 181.2L398.6 177.0L402.8 181.2L398.6 185.4Z" fill="none" stroke="#808000" stroke-width="0.85"/>
<path d="M377.5 189.6L381.7 185.4L385.9 189.6L381.7 193.8Z" fill="none" stroke="#808000" stroke-width="0.85"/>
<path d="M387.8 189.9L392.0 185.7L396.2 189.9L392.0 194.1Z" fill="none" stroke="#808000" stroke-width="0.85"/>
<path d="M376.2 201.8L380.4 197.6L384.6 201.8L380.4 206.0Z" fill="none" stroke="#808000" stroke-width="0.85"/>
<path d="M383.8 201.1L388.0 196.9L392.2 201.1L388.0 205.3Z" fill="none" stroke="#808000" stroke-width="0.85"/>
<path d="M359.9 213.4L364.1 209.2L368.3 213.4L364.1 217.6Z" fill="none" stroke="#808000" stroke-width="0.85"/>
<path d="M337.4 222.6L341.6 218.4L345.8 222.6L341.6 226.8Z" fill="none" stroke="#808000" stroke-width="0.85"/>
<path d="M338.0 225.5L342.2 221.3L346.4 225.5L342.2 229.7Z" fill="none" stroke="#808000" stroke-width="0.85"/>
<path d="M327.1 235.5L331.3 231.3L335.5 235.5L331.3 239.7Z" fill="none" stroke="#808000" stroke-width="0.85"/>
<path d="M333.5 236.4L337.7 232.2L341.9 236.4L337.7 240.6Z" fill="none" stroke="#808000" stroke-width="0.85"/>
<path d="M343.1 242.2L347.3 238.0L351.5 242.2L347.3 246.4Z" fill="none" stroke="#808000" stroke-width="0.85"/>
<path d="M336.7 244.1L340.9 239.9L345.1 244.1L340.9 248.3Z" fill="none" stroke="#808000" stroke-width="0.85"/>
<path d="M323.2 245.4L327.4 241.2L331.6 245.4L327.4 249.6Z" fill="none" stroke="#808000" stroke-width="0.85"/>
<path d="M342.5 242.7L346.7 238.5L350.9 242.7L346.7 246.9Z" fill="none" stroke="#808000" stroke-width="0.85"/>
<path d="M354.1 249.8L358.3 245.6L362.5 249.8L358.3 254.0Z" fill="none" stroke="#808000" stroke-width="0.85"/>
<path d="M323.8 267.4L328.0 263.2L332.2 267.4L328.0 271.6Z" fill="none" stroke="#808000" stroke-width="0.85"/>
<path d="M336.7 275.0L340.9 270.8L345.1 275.0L340.9 279.2Z" fill="none" stroke="#808000" stroke-width="0.85"/>
<path d="M340.5 280.8L344.7 276.6L348.9 280.8L344.7 285.0Z" fill="none" stroke="#808000" stroke-width="0.85"/>
<path d="M339.6 281.5L343.8 277.3L348.0 281.5L343.8 285.7Z" fill="none" stroke="#808000" stroke-width="0.85"/>
<path d="M338.0 276.0L342.2 271.8L346.4 276.0L342.2 280.2Z" fill="none" stroke="#808000" stroke-width="0.85"/>
<path d="M318.2 295.8L322.4 291.6L326.6 295.8L322.4 300.0Z" fill="none" stroke="#808000" stroke-width="0.85"/>
<path d="M315.4 293.6L319.6 289.4L323.8 293.6L319.6 297.8Z" fill="none" stroke="#808000" stroke-width="0.85"/>
<path d="M329.8 258.0L334.0 253.8L338.2 258.0L334.0 262.2Z" fill="none" stroke="#808000" stroke-width="0.85"/>
<path d="M333.8 266.0L338.0 261.8L342.2 266.0L338.0 270.2Z" fill="none" stroke="#808000" stroke-width="0.85"/>
<path d="M321.8 262.0L326.0 257.8L330.2 262.0L326.0 266.2Z" fill="none" stroke="#808000" stroke-width="0.85"/>
<path d="M316.8 274.0L321.0 269.8L325.2 274.0L321.0 278.2Z" fill="none" stroke="#808000" stroke-width="0.85"/>
<path d="M311.8 286.0L316.0 281.8L320.2 286.0L316.0 290.2Z" fill="none" stroke="#808000" stroke-width="0.85"/>
<path d="M328.8 281.0L333.0 276.8L337.2 281.0L333.0 285.2Z" fill="none" stroke="#808000" stroke-width="0.85"/>
<path d="M340.8 250.8L345.0 246.6L349.2 250.8L345.0 255.0Z" fill="none" stroke="#808000" stroke-width="0.85"/>
<path d="M316.6 270.1L320.8 265.9L325.0 270.1L320.8 274.3Z" fill="none" stroke="#808000" stroke-width="0.85"/>
<path d="M309.5 283.2L313.7 279.0L317.9 283.2L313.7 287.4Z" fill="none" stroke="#808000" stroke-width="0.85"/>
<path d="M333.8 247.9L338.0 243.7L342.2 247.9L338.0 252.1Z" fill="none" stroke="#808000" stroke-width="0.85"/>
<path d="M324.9 268.5L329.1 264.3L333.3 268.5L329.1 272.7Z" fill="none" stroke="#808000" stroke-width="0.85"/>
<rect x="488.9" y="37.8" width="5.6" height="5.6" fill="none" stroke="#8000ff" stroke-width="0.85"/>
<rect x="406.0" y="127.5" width="5.6" height="5.6" fill="none" stroke="#8000ff" stroke-width="0.85"/>
<rect x="420.1" y="139.3" width="5.6" height="5.6" fill="none" stroke="#8000ff" stroke-width="0.85"/>
<rect x="377.5" y="178.4" width="5.6" height="5.6" fill="none" stroke="#8000ff" stroke-width="0.85"/>
<rect x="386.2" y="178.4" width="5.6" height="5.6" fill="none" stroke="#8000ff" stroke-width="0.85"/>
<rect x="368.5" y="193.8" width="5.6" height="5.6" fill="none" stroke="#8000ff" stroke-width="0.85"/>
<rect x="380.4" y="207.4" width="5.6" height="5.6" fill="none" stroke="#8000ff" stroke-width="0.85"/>
<rect x="386.6" y="206.7" width="5.6" height="5.6" fill="none" stroke="#8000ff" stroke-width="0.85"/>
<rect x="367.5" y="208.9" width="5.6" height="5.6" fill="none" stroke="#8000ff" stroke-width="0.85"/>
<rect x="369.1" y="211.8" width="5.6" height="5.6" fill="none" stroke="#8000ff" stroke-width="0.85"/>
<rect x="362.8" y="219.1" width="5.6" height="5.6" fill="none" stroke="#8000ff" stroke-width="0.85"/>
<rect x="356.6" y="223.8" width="5.6" height="5.6" fill="none" stroke="#8000ff" stroke-width="0.85"/>
<rect x="364.0" y="226.4" width="5.6" height="5.6" fill="none" stroke="#8000ff" stroke-width="0.85"/>
<rect x="346.6" y="244.5" width="5.6" height="5.6" fill="none" stroke="#8000ff" stroke-width="0.85"/>
<rect x="327.7" y="249.9" width="5.6" height="5.6" fill="none" stroke="#8000ff" stroke-width="0.85"/>
<rect x="352.7" y="264.7" width="5.6" height="5.6" fill="none" stroke="#8000ff" stroke-width="0.85"/>
<rect x="316.3" y="263.3" width="5.6" height="5.6" fill="none" stroke="#8000ff" stroke-width="0.85"/>
<rect x="316.9" y="267.1" width="5.6" height="5.6" fill="none" stroke="#8000ff" stroke-width="0.85"/>
<rect x="311.8" y="269.0" width="5.6" height="5.6" fill="none" stroke="#8000ff" stroke-width="0.85"/>
<rect x="331.0" y="268.4" width="5.6" height="5.6" fill="none" stroke="#8000ff" stroke-width="0.85"/>
<rect x="332.9" y="267.8" width="5.6" height="5.6" fill="none" stroke="#8000ff" stroke-width="0.85"/>
<rect x="322.0" y="272.9" width="5.6" height="5.6" fill="none" stroke="#8000ff" stroke-width="0.85"/>
<rect x="310.4" y="280.6" width="5.6" height="5.6" fill="none" stroke="#8000ff" stroke-width="0.85"/>
<rect x="313.6" y="280.6" width="5.6" height="5.6" fill="none" stroke="#8000ff" stroke-width="0.85"/>
<rect x="326.0" y="281.3" width="5.6" height="5.6" fill="none" stroke="#8000ff" stroke-width="0.85"/>
<rect x="334.3" y="284.6" width="5.6" height="5.6" fill="none" stroke="#8000ff" stroke-width="0.85"/>
<rect x="343.2" y="255.6" width="5.6" height="5.6" fill="none" stroke="#8000ff" stroke-width="0.85"/>
<rect x="345.8" y="259.4" width="5.6" height="5.6" fill="none" stroke="#8000ff" stroke-width="0.85"/>
<rect x="346.4" y="262.0" width="5.6" height="5.6" fill="none" stroke="#8000ff" stroke-width="0.85"/>
<rect x="339.4" y="265.8" width="5.6" height="5.6" fill="none" stroke="#8000ff" stroke-width="0.85"/>
<rect x="310.8" y="290.8" width="5.6" height="5.6" fill="none" stroke="#8000ff" stroke-width="0.85"/>
<rect x="310.8" y="294.7" width="5.6" height="5.6" fill="none" stroke="#8000ff" stroke-width="0.85"/>
<rect x="311.3" y="298.0" width="5.6" height="5.6" fill="none" stroke="#8000ff" stroke-width="0.85"/>
<rect x="322.2" y="277.2" width="5.6" height="5.6" fill="none" stroke="#8000ff" stroke-width="0.85"/>
<rect x="327.2" y="274.2" width="5.6" height="5.6" fill="none" stroke="#8000ff" stroke-width="0.85"/>
<rect x="318.2" y="285.2" width="5.6" height="5.6" fill="none" stroke="#8000ff" stroke-width="0.85"/>
<rect x="333.8" y="260.8" width="5.6" height="5.6" fill="none" stroke="#8000ff" stroke-width="0.85"/>
<rect x="341.7" y="242.7" width="5.6" height="5.6" fill="none" stroke="#8000ff" stroke-width="0.85"/>
<rect x="339.4" y="256.7" width="5.6" height="5.6" fill="none" stroke="#8000ff" stroke-width="0.85"/>
<rect x="327.5" y="267.3" width="5.6" height="5.6" fill="none" stroke="#8000ff" stroke-width="0.85"/>
<circle cx="461.1" cy="56.5" r="3.2" fill="none" stroke="#ff1212" stroke-width="0.85"/>
<circle cx="452.0" cy="74.7" r="3.2" fill="none" stroke="#ff1212" stroke-width="0.85"/>
<circle cx="432.3" cy="95.5" r="3.2" fill="none" stroke="#ff1212" stroke-width="0.85"/>
<circle cx="439.0" cy="96.1" r="3.2" fill="none" stroke="#ff1212" stroke-width="0.85"/>
<circle cx="428.9" cy="134.0" r="3.2" fill="none" stroke="#ff1212" stroke-width="0.85"/>
<circle cx="417.2" cy="143.9" r="3.2" fill="none" stroke="#ff1212" stroke-width="0.85"/>
<circle cx="381.4" cy="187.4" r="3.2" fill="none" stroke="#ff1212" stroke-width="0.85"/>
<circle cx="396.6" cy="193.3" r="3.2" fill="none" stroke="#ff1212" stroke-width="0.85"/>
<circle cx="378.4" cy="211.0" r="3.2" fill="none" stroke="#ff1212" stroke-width="0.85"/>
<circle cx="347.5" cy="231.6" r="3.2" fill="none" stroke="#ff1212" stroke-width="0.85"/>
<circle cx="355.7" cy="239.2" r="3.2" fill="none" stroke="#ff1212" stroke-width="0.85"/>
<circle cx="362.0" cy="241.6" r="3.2" fill="none" stroke="#ff1212" stroke-width="0.85"/>
<circle cx="324.0" cy="248.2" r="3.2" fill="none" stroke="#ff1212" stroke-width="0.85"/>
<circle cx="344.7" cy="250.5" r="3.2" fill="none" stroke="#ff1212" stroke-width="0.85"/>
<circle cx="344.4" cy="251.5" r="3.2" fill="none" stroke="#ff1212" stroke-width="0.85"/>
<circle cx="349.5" cy="255.2" r="3.2" fill="none" stroke="#ff1212" stroke-width="0.85"/>
<circle cx="321.0" cy="255.2" r="3.2" fill="none" stroke="#ff1212" stroke-width="0.85"/>
<circle cx="321.6" cy="258.4" r="3.2" fill="none" stroke="#ff1212" stroke-width="0.85"/>
<circle cx="316.5" cy="259.7" r="3.2" fill="none" stroke="#ff1212" stroke-width="0.85"/>
<circle cx="349.8" cy="256.5" r="3.2" fill="none" stroke="#ff1212" stroke-width="0.85"/>
<circle cx="345.4" cy="251.3" r="3.2" fill="none" stroke="#ff1212" stroke-width="0.85"/>
<circle cx="337.0" cy="263.5" r="3.2" fill="none" stroke="#ff1212" stroke-width="0.85"/>
<circle cx="312.7" cy="271.8" r="3.2" fill="none" stroke="#ff1212" stroke-width="0.85"/>
<circle cx="307.5" cy="281.5" r="3.2" fill="none" stroke="#ff1212" stroke-width="0.85"/>
<circle cx="339.4" cy="283.2" r="3.2" fill="none" stroke="#ff1212" stroke-width="0.85"/>
<circle cx="332.8" cy="292.0" r="3.2" fill="none" stroke="#ff1212" stroke-width="0.85"/>
<circle cx="322.4" cy="284.8" r="3.2" fill="none" stroke="#ff1212" stroke-width="0.85"/>
<circle cx="322.9" cy="289.8" r="3.2" fill="none" stroke="#ff1212" stroke-width="0.85"/>
<circle cx="313.0" cy="292.5" r="3.2" fill="none" stroke="#ff1212" stroke-width="0.85"/>
<circle cx="314.1" cy="297.5" r="3.2" fill="none" stroke="#ff1212" stroke-width="0.85"/>
<circle cx="314.7" cy="301.9" r="3.2" fill="none" stroke="#ff1212" stroke-width="0.85"/>
<circle cx="319.6" cy="299.1" r="3.2" fill="none" stroke="#ff1212" stroke-width="0.85"/>
<circle cx="327.0" cy="268.0" r="3.2" fill="none" stroke="#ff1212" stroke-width="0.85"/>
<circle cx="331.0" cy="262.0" r="3.2" fill="none" stroke="#ff1212" stroke-width="0.85"/>
<circle cx="318.0" cy="277.0" r="3.2" fill="none" stroke="#ff1212" stroke-width="0.85"/>
<circle cx="335.0" cy="274.0" r="3.2" fill="none" stroke="#ff1212" stroke-width="0.85"/>
<circle cx="321.9" cy="283.0" r="3.2" fill="none" stroke="#ff1212" stroke-width="0.85"/>
<circle cx="318.0" cy="286.3" r="3.2" fill="none" stroke="#ff1212" stroke-width="0.85"/>
<circle cx="307.1" cy="284.1" r="3.2" fill="none" stroke="#ff1212" stroke-width="0.85"/>
<circle cx="346.0" cy="257.7" r="3.2" fill="none" stroke="#ff1212" stroke-width="0.85"/>
<circle cx="384.3" cy="72.3" r="3.2" fill="none" stroke="#ff1212" stroke-width="0.85"/>
<circle cx="365.5" cy="110.1" r="3.2" fill="none" stroke="#ff1212" stroke-width="0.85"/>
<circle cx="351.8" cy="115.7" r="3.2" fill="none" stroke="#ff1212" stroke-width="0.85"/>
<circle cx="344.0" cy="146.0" r="3.2" fill="none" stroke="#ff1212" stroke-width="0.85"/>
<circle cx="319.6" cy="170.0" r="3.2" fill="none" stroke="#ff1212" stroke-width="0.85"/>
<circle cx="328.6" cy="170.0" r="3.2" fill="none" stroke="#ff1212" stroke-width="0.85"/>
<rect x="368.05" y="84.35" width="5.9" height="5.9" fill="#fff" stroke="#ff1212" stroke-width="1"/>
<line x1="367.80" y1="87.40" x2="354.00" y2="87.40" stroke="#ff1212" stroke-width="1.0" />
<path d="M348.2 87.4L355.6 85.3L355.6 89.5Z" fill="#ff1212"/>
<rect x="447.45" y="84.35" width="5.9" height="5.9" fill="#fff" stroke="#8000ff" stroke-width="1"/>
<line x1="453.60" y1="87.20" x2="467.00" y2="87.20" stroke="#8000ff" stroke-width="1.0" />
<path d="M472.6 87.2L465.8 85.0L465.8 89.4Z" fill="#8000ff"/>
<rect x="158.6" y="198.1" width="3" height="3" fill="#8000ff"/>
<path d="M160.1 199.6H79.7V214" fill="none" stroke="#8000ff" stroke-width="1.1"/>
<path d="M79.7 219.2L77.5 212.2L81.9 212.2Z" fill="#8000ff"/>
<rect x="396.8" y="159.5" width="3" height="3" fill="#8000ff"/>
<path d="M398.3 161V248.3H380" fill="none" stroke="#8000ff" stroke-width="1.1"/>
<path d="M374.4 248.3L381.4 246.1L381.4 250.5Z" fill="#8000ff"/>
<rect x="115.3" y="266.2" width="137.7" height="60.5" fill="#fff" stroke="#a060ff" stroke-width="1"/>
<text  x="36.9" y="337.29999999999995" font-size="11.3" fill="#111" stroke="#111" stroke-width="0.18" text-anchor="end" >20</text>
<text  x="36.9" y="292.79999999999995" font-size="11.3" fill="#111" stroke="#111" stroke-width="0.18" text-anchor="end" >30</text>
<text  x="36.9" y="248.29999999999998" font-size="11.3" fill="#111" stroke="#111" stroke-width="0.18" text-anchor="end" >40</text>
<text  x="36.9" y="203.79999999999998" font-size="11.3" fill="#111" stroke="#111" stroke-width="0.18" text-anchor="end" >50</text>
<text  x="36.9" y="159.29999999999998" font-size="11.3" fill="#111" stroke="#111" stroke-width="0.18" text-anchor="end" >60</text>
<text  x="36.9" y="114.79999999999998" font-size="11.3" fill="#111" stroke="#111" stroke-width="0.18" text-anchor="end" >70</text>
<text  x="36.9" y="70.29999999999998" font-size="11.3" fill="#111" stroke="#111" stroke-width="0.18" text-anchor="end" >80</text>
<text  x="36.9" y="25.799999999999976" font-size="11.3" fill="#111" stroke="#111" stroke-width="0.18" text-anchor="end" >90</text>
<text  x="44.6" y="352.9" font-size="11.3" fill="#111" stroke="#111" stroke-width="0.18" text-anchor="middle" >200</text>
<text  x="106.6" y="352.9" font-size="11.3" fill="#111" stroke="#111" stroke-width="0.18" text-anchor="middle" >300</text>
<text  x="168.6" y="352.9" font-size="11.3" fill="#111" stroke="#111" stroke-width="0.18" text-anchor="middle" >400</text>
<text  x="230.6" y="352.9" font-size="11.3" fill="#111" stroke="#111" stroke-width="0.18" text-anchor="middle" >500</text>
<text  x="281.5" y="337.29999999999995" font-size="11.3" fill="#111" stroke="#111" stroke-width="0.18" text-anchor="end" >50</text>
<text  x="281.5" y="252.70337209257045" font-size="11.3" fill="#111" stroke="#111" stroke-width="0.18" text-anchor="end" >60</text>
<text  x="281.5" y="181.60588150485924" font-size="11.3" fill="#111" stroke="#111" stroke-width="0.18" text-anchor="end" >70</text>
<text  x="281.5" y="120.01843381455592" font-size="11.3" fill="#111" stroke="#111" stroke-width="0.18" text-anchor="end" >80</text>
<text  x="281.5" y="65.69445497543701" font-size="11.3" fill="#111" stroke="#111" stroke-width="0.18" text-anchor="end" >90</text>
<text  x="281.5" y="16.5" font-size="11.3" fill="#111" stroke="#111" stroke-width="0.18" text-anchor="end" >100</text>
<text  x="284.5" y="352.9" font-size="11.3" fill="#111" stroke="#111" stroke-width="0.18" text-anchor="middle" >25</text>
<text  x="314.470101629026" y="352.9" font-size="11.3" fill="#111" stroke="#111" stroke-width="0.18" text-anchor="middle" >30</text>
<text  x="361.75941343526756" y="352.9" font-size="11.3" fill="#111" stroke="#111" stroke-width="0.18" text-anchor="middle" >40</text>
<text  x="398.4398533588169" y="352.9" font-size="11.3" fill="#111" stroke="#111" stroke-width="0.18" text-anchor="middle" >50</text>
<text  x="428.40995498784287" y="352.9" font-size="11.3" fill="#111" stroke="#111" stroke-width="0.18" text-anchor="middle" >60</text>
<text  x="453.74931486303" y="352.9" font-size="11.3" fill="#111" stroke="#111" stroke-width="0.18" text-anchor="middle" >70</text>
<text  x="475.69926679408445" y="352.9" font-size="11.3" fill="#111" stroke="#111" stroke-width="0.18" text-anchor="middle" >80</text>
<text  x="495.0604965404182" y="352.9" font-size="11.3" fill="#111" stroke="#111" stroke-width="0.18" text-anchor="middle" >90</text>
<text  x="510.6" y="337.29999999999995" font-size="11.3" fill="#111" stroke="#111" stroke-width="0.18" text-anchor="start" >0.35</text>
<text  x="510.6" y="284.9431375248188" font-size="11.3" fill="#111" stroke="#111" stroke-width="0.18" text-anchor="start" >0.5</text>
<text  x="510.6" y="183.19499899039315" font-size="11.3" fill="#111" stroke="#111" stroke-width="0.18" text-anchor="start" >1</text>
<text  x="510.6" y="123.6761534295729" font-size="11.3" fill="#111" stroke="#111" stroke-width="0.18" text-anchor="start" >1.5</text>
<text  x="510.6" y="81.44686045596748" font-size="11.3" fill="#111" stroke="#111" stroke-width="0.18" text-anchor="start" >2</text>
<text  x="510.6" y="48.69127605924441" font-size="11.3" fill="#111" stroke="#111" stroke-width="0.18" text-anchor="start" >2.5</text>
<text  x="510.6" y="21.928014895147236" font-size="11.3" fill="#111" stroke="#111" stroke-width="0.18" text-anchor="start" >3</text>
<text id="t_title" x="68.9" y="74.1" font-size="17.3" fill="#111" stroke="#111" stroke-width="0.18" text-anchor="start" >AlMgB<tspan font-size="10.9" dy="4">14</tspan><tspan dy="-4">/Si(100)</tspan></text>
<line x1="68.90" y1="75.70" x2="118.90" y2="75.70" stroke="#111" stroke-width="1.1" />
<line x1="131.50" y1="75.70" x2="192.50" y2="75.70" stroke="#111" stroke-width="1.1" />
<text id="t_xl1" x="58.9" y="369.3" font-size="13.95" fill="#111" stroke="#111" stroke-width="0.18" text-anchor="start" >Young's modulus</text>
<text  x="169.0" y="369.3" font-size="13.8" fill="#111" stroke="#111" stroke-width="0.18" text-anchor="start" font-style="italic">E</text>
<text  x="183.3" y="364.3" font-size="8.3" fill="#111" stroke="#111" stroke-width="0.18" text-anchor="start" >*</text>
<text id="t_xl1b" x="196.3" y="369.3" font-size="13.8" fill="#111" stroke="#111" stroke-width="0.18" text-anchor="start" >[GPa]</text>
<text id="t_xl2" x="331.7" y="368.9" font-size="13.95" fill="#111" stroke="#111" stroke-width="0.18" text-anchor="start" xml:space="preserve">Hardness <tspan font-style="italic">H</tspan>  [GPa]</text>
<g transform="translate(18.9,173.3) rotate(-90)">
<text id="t_yl1" x="0" y="0" font-size="13.8" fill="#111" stroke="#111" stroke-width="0.18" text-anchor="middle" xml:space="preserve">Hardness <tspan font-style="italic">H</tspan>  [GPa]</text>
</g>
<g transform="translate(303.5,172.4) rotate(-90)">
<text id="t_yl2" x="0" y="0" font-size="13.9" fill="#111" stroke="#111" stroke-width="0.18" text-anchor="middle" xml:space="preserve">Elastic recovery ratio <tspan font-style="italic">W</tspan><tspan font-size="9" dy="2.5">e</tspan><tspan dy="-2.5">  [%]</tspan></text>
</g>
<g transform="translate(532.5,227.5) rotate(-90)">
<text id="t_yl3" x="-0.7" y="0" font-size="13.8" fill="#111" stroke="#111" stroke-width="0.18" text-anchor="start" font-style="italic">H</text>
<text  x="11.2" y="-6.3" font-size="8.3" fill="#111" stroke="#111" stroke-width="0.18" text-anchor="start" >3</text>
<text  x="16.7" y="0" font-size="13.8" fill="#111" stroke="#111" stroke-width="0.18" text-anchor="start" >/</text>
<text  x="22.4" y="0" font-size="13.8" fill="#111" stroke="#111" stroke-width="0.18" text-anchor="start" font-style="italic">E</text>
<text  x="34.2" y="-6.3" font-size="8.3" fill="#111" stroke="#111" stroke-width="0.18" text-anchor="start" >*</text>
<text  x="37.9" y="-6.3" font-size="8.3" fill="#111" stroke="#111" stroke-width="0.18" text-anchor="start" >2</text>
<text id="t_yl3b" x="50.6" y="0" font-size="13.8" fill="#111" stroke="#111" stroke-width="0.18" text-anchor="start" >[GPa]</text>
</g>
<text  x="84.4" y="213.8" font-size="13.2" fill="#8000ff" stroke="#8000ff" stroke-width="0.18" text-anchor="start" font-style="italic">H</text>
<text  x="383.2" y="243.2" font-size="13.2" fill="#8000ff" stroke="#8000ff" stroke-width="0.18" text-anchor="start" font-style="italic">H</text>
<text id="t_eq1" x="133.9" y="243.8" font-size="13.3" fill="#8000ff" stroke="#8000ff" stroke-width="0.18" text-anchor="start" xml:space="preserve"><tspan font-style="italic">H</tspan> = 0.2(<tspan font-style="italic">E</tspan>- 90GPa)</text>
<text id="t_eq2" x="306.4" y="35.7" font-size="13.2" fill="#8000ff" stroke="#8000ff" stroke-width="0.18" text-anchor="start" ><tspan font-style="italic">H</tspan><tspan font-size="8.8" dy="-5.6" dx="0.3">3</tspan><tspan dy="5.6">/</tspan><tspan font-style="italic">E</tspan><tspan font-size="8.8" dy="-5.6">2</tspan><tspan dy="5.6" dx="0.3">[GPa]</tspan></text>
<text id="t_eq2b" x="376.5" y="35.7" font-size="13.2" fill="#8000ff" stroke="#8000ff" stroke-width="0.18" text-anchor="start" xml:space="preserve" textLength="85.6">= (<tspan font-style="italic">H</tspan>/48.5GPa)</text>
<text id="t_eq2c" x="463.6" y="30.4" font-size="8.4" fill="#8000ff" stroke="#8000ff" stroke-width="0.18" text-anchor="start" >1.78</text>
<text id="t_eq3" x="303.4" y="62.3" font-size="13.4" fill="#ff1212" stroke="#ff1212" stroke-width="0.18" text-anchor="start" xml:space="preserve"><tspan font-style="italic">W</tspan><tspan font-size="9.6" dy="3">e</tspan><tspan dy="-3"> / </tspan><tspan font-style="italic">H</tspan></text>
<text id="t_eq3b" x="343.8" y="63.5" font-size="15.2" fill="#ff1212" style="font-family:'DejaVu Sans','Liberation Sans',sans-serif">∝</text>
<text id="t_eq3c" x="357.5" y="62.3" font-size="13.5" fill="#ff1212" stroke="#ff1212" stroke-width="0.18" text-anchor="start" >1.3</text>
<text id="t_leg1" x="123.7" y="286" font-size="10.95" fill="#ff1212" stroke="#ff1212" stroke-width="0.18" text-anchor="start" >RF15-2(2.12µm)@250<tspan font-size="7" dy="-4">o</tspan><tspan dy="4">C</tspan></text>
<text id="t_leg2" x="123.7" y="301" font-size="10.95" fill="#8000ff" stroke="#8000ff" stroke-width="0.18" text-anchor="start" >RF16-2(2.13µm)@300<tspan font-size="7" dy="-4">o</tspan><tspan dy="4">C</tspan></text>
<text id="t_leg3" x="123.7" y="316" font-size="10.95" fill="#808000" stroke="#808000" stroke-width="0.18" text-anchor="start" >RF17-2(2.15µm)@350<tspan font-size="7" dy="-4">o</tspan><tspan dy="4">C</tspan></text>
</svg>
</body></html>
